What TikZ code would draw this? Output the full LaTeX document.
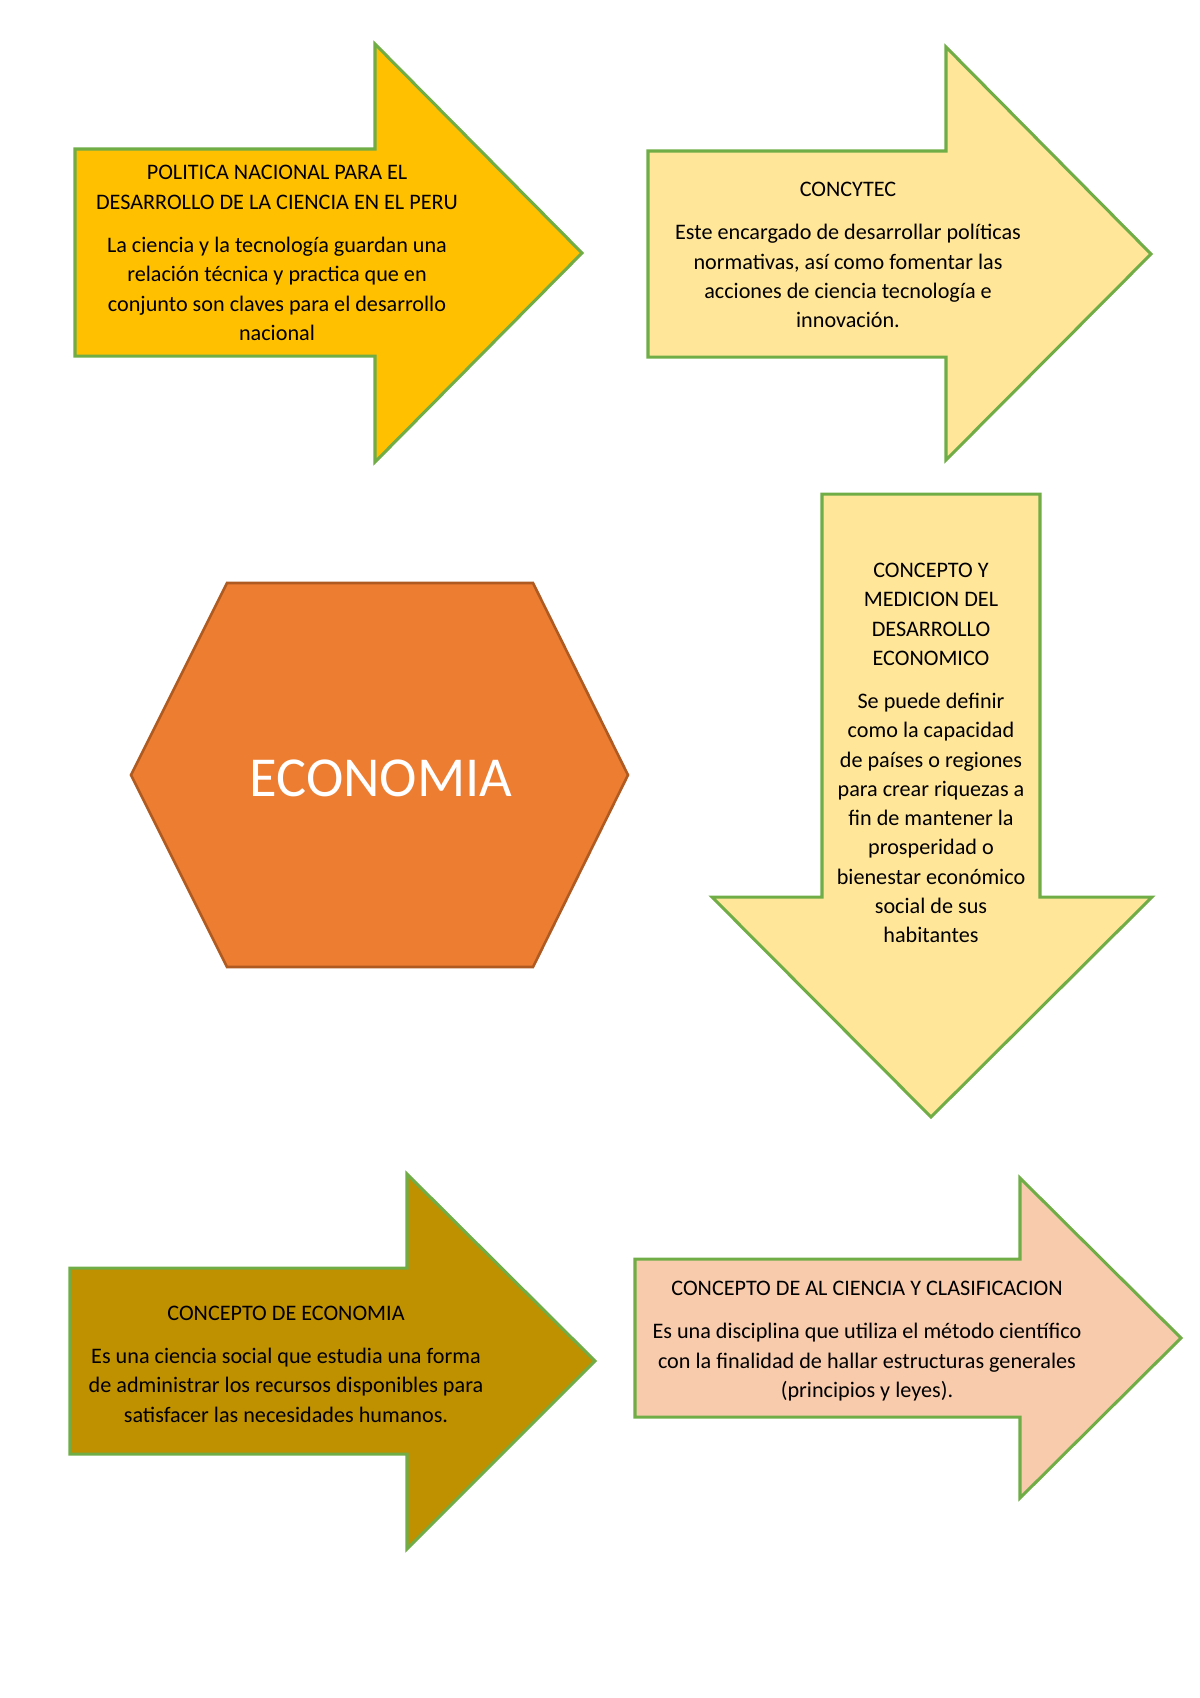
\documentclass[tikz,border=0pt]{standalone}
\usepackage{fontspec}
\setmainfont{Carlito}
\usetikzlibrary{positioning}
\definecolor{leafgreen}{HTML}{70AD47}
\definecolor{goldfill}{HTML}{FFC000}
\definecolor{creamfill}{HTML}{FFE699}
\definecolor{orangefill}{HTML}{ED7D31}
\definecolor{orangeline}{HTML}{AE5A21}
\definecolor{olivefill}{HTML}{BF9000}
\definecolor{peachfill}{HTML}{F8CBAD}
\tikzset{
    x=0.496pt, y=-0.496pt,                      % one unit is one pixel of the page
    arrowshape/.style={draw=leafgreen, line width=1.5pt, line join=miter},
    hexshape/.style={draw=orangeline, line width=1.3pt, fill=orangefill},
    infotext/.style={align=center, inner sep=0pt, font=\fontsize{11}{14.5}\selectfont},
}
\newcommand{\gap}{\\[7pt]}

\begin{document}
\begin{tikzpicture}
\useasboundingbox (0,0) rectangle (1200,1698);

% top row
\draw[arrowshape, fill=goldfill] (75,149) -- (375,149) -- (375,44) -- (582,253) -- (375,462) -- (375,356) -- (75,356) -- cycle;
\node[infotext] (politica) at (277,253) {POLITICA NACIONAL PARA EL\\DESARROLLO DE LA CIENCIA EN EL PERU\gap
La ciencia y la tecnología guardan una\\relación técnica y practica que en\\conjunto son claves para el desarrollo\\nacional};

\draw[arrowshape, fill=creamfill] (648,151) -- (946,151) -- (946,47) -- (1151,254) -- (946,460) -- (946,357) -- (648,357) -- cycle;
\node[infotext] (concytec) at (848,255) {CONCYTEC\gap
Este encargado de desarrollar políticas\\normativas, así como fomentar las\\acciones de ciencia tecnología e\\innovación.};

% middle row
\draw[hexshape] (131,775) -- (227,583) -- (533,583) -- (628,775) -- (533,967) -- (227,967) -- cycle;
\node[text=white, font=\fontsize{28}{30}\selectfont, inner sep=0pt] (economia) at (381,778) {ECONOMIA};

\draw[arrowshape, fill=creamfill] (822,494) -- (1040,494) -- (1040,897) -- (1152,897) -- (931,1117) -- (712,897) -- (822,897) -- cycle;
\node[infotext] (medicion) at (931,753) {CONCEPTO Y\\MEDICION DEL\\DESARROLLO\\ECONOMICO\gap
Se puede definir\\como la capacidad\\de países o regiones\\para crear riquezas a\\fin de mantener la\\prosperidad o\\bienestar económico\\social de sus\\habitantes};

% bottom row
\draw[arrowshape, fill=olivefill] (70,1268) -- (407,1268) -- (407,1174) -- (595,1361) -- (407,1549) -- (407,1454) -- (70,1454) -- cycle;
\node[infotext] (economiadef) at (286,1364) {CONCEPTO DE ECONOMIA\gap
Es una ciencia social que estudia una forma\\de administrar los recursos disponibles para\\satisfacer las necesidades humanos.};

\draw[arrowshape, fill=peachfill] (635,1259) -- (1020,1259) -- (1020,1178) -- (1181,1338) -- (1020,1498) -- (1020,1417) -- (635,1417) -- cycle;
\node[infotext] (ciencia) at (867,1341) {CONCEPTO DE AL CIENCIA Y CLASIFICACION\gap
Es una disciplina que utiliza el método científico\\con la finalidad de hallar estructuras generales\\(principios y leyes).};

\end{tikzpicture}
\end{document}
